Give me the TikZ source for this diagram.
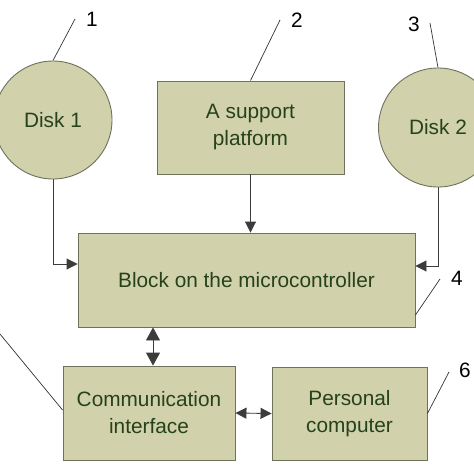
\documentclass[tikz,border=0pt]{standalone}
\usepackage{fontspec}
\setmainfont{Liberation Sans}
\usetikzlibrary{arrows.meta}
\definecolor{boxfill}{RGB}{209,209,172}
\definecolor{boxline}{RGB}{110,114,90}
\definecolor{txt}{RGB}{38,66,26}
\definecolor{wire}{RGB}{60,60,60}
\tikzset{
  blockbox/.style={draw=boxline, fill=boxfill, line width=0.9pt, text=txt, align=center, inner sep=0pt, font=\fontsize{20.8}{27}\selectfont},
  diskshape/.style={circle, draw=boxline, fill=boxfill, line width=0.9pt, text=txt, inner sep=0pt, font=\fontsize{20.8}{27}\selectfont},
  wireline/.style={draw=wire, line width=0.9pt},
  flow/.style={wireline, -{Triangle[length=11pt,width=11pt]}},
  bigboth/.style={wireline, {Triangle[length=13pt,width=14pt]}-{Triangle[length=13pt,width=14pt]}},
  smallboth/.style={wireline, {Triangle[length=11pt,width=11pt]}-{Triangle[length=11pt,width=11pt]}},
  leader/.style={draw=black!80, line width=0.7pt},
  numlabel/.style={text=black, inner sep=0pt, font=\fontsize{20.8}{27}\selectfont}
}
\begin{document}
\begin{tikzpicture}[x=1pt,y=-1pt]
\useasboundingbox[fill=white] (0,0) rectangle (474,474);
\begin{scope}
\clip (0,0) rectangle (474,474);
\node[diskshape, minimum size=118pt] (d1) at (53,120) {Disk 1};
\node[diskshape, minimum size=119pt] (d2) at (438,127.5) {Disk 2};
\end{scope}
\node[blockbox, minimum width=187pt, minimum height=93pt] (sp) at (250.5,127.5) {A support\\platform};
\node[blockbox, minimum width=337pt, minimum height=94pt] (blk) at (246.5,280) {Block on the microcontroller};
\node[blockbox, minimum width=172pt, minimum height=94pt] (comm) at (149,413) {Communication\\interface};
\node[blockbox, minimum width=155pt, minimum height=93pt] (pc) at (349.5,413.5) {Personal\\computer};

\draw[flow] (d1.south) |- ([yshift=16pt]blk.west);
\draw[flow] (d2.south) |- ([yshift=14pt]blk.east);
\draw[flow] (sp.south) -- (sp.south |- blk.north);
\draw[bigboth] (blk.south -| 153,0) -- (comm.north -| 153,0);
\draw[smallboth] (comm.east) -- (pc.west);

\coordinate (e1) at (75,19);
\coordinate (e2) at (280,20);
\coordinate (e3) at (430,23);
\coordinate (e4) at (440,279);
\coordinate (e5) at (0,334);
\coordinate (e6) at (449,372);
\draw[leader] (d1.north) -- (e1);
\draw[leader] (sp.north) -- (e2);
\draw[leader] (d2.north) -- (e3);
\draw[leader] ([yshift=-35pt]blk.east) -- (e4);
\draw[leader] ([yshift=3pt]comm.west) -- (e5);
\draw[leader] (pc.east) -- (e6);
\node[numlabel] (n1) at (92,19) {1};
\node[numlabel] (n2) at (297,20) {2};
\node[numlabel] (n3) at (414,24) {3};
\node[numlabel] (n4) at (457,278) {4};
\node[numlabel] (n6) at (465,370) {6};
\end{tikzpicture}
\end{document}
